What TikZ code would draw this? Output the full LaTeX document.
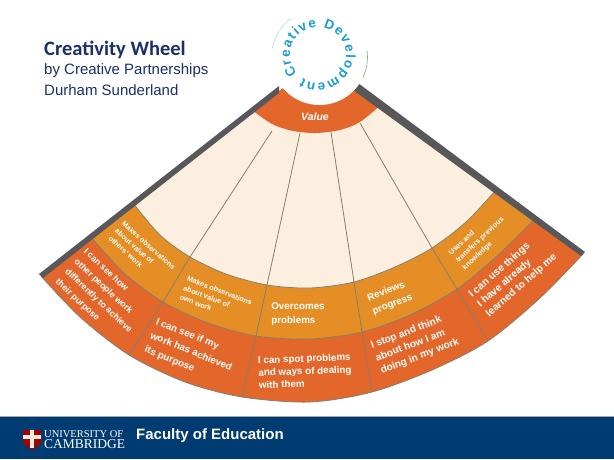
\documentclass[tikz,border=0pt]{standalone}
\usepackage{fontspec}
\setmainfont{Liberation Sans}
\newfontfamily\titlefont{Carlito}
\newfontfamily\crestfont{Liberation Serif}
\usepackage{xcolor}
\usetikzlibrary{positioning,decorations.text}

\definecolor{navy}{HTML}{1B2F6B}
\definecolor{footblue}{HTML}{003C71}
\definecolor{cream}{HTML}{FCEFE0}
\definecolor{amber}{HTML}{E58E26}
\definecolor{rust}{HTML}{E3672B}
\definecolor{band}{HTML}{58585A}
\definecolor{spoke}{HTML}{84806F}
\definecolor{ringblue}{HTML}{1C9CD8}

% Arcs of the wheel, read left to right
\newcommand{\outerarc}{(41,276) (80,317) (129,355) (185,382) (242,397) (310,402) (372,392) (432,370) (488,341) (540,298) (583,254)}
\newcommand{\midarc}{(90,236) (124,273) (163,302) (208,323) (256,336) (310,339) (362,332) (410,315) (457,289) (497,256) (535,219)}
\newcommand{\innerarc}{(133,203) (160,235) (190,257) (226,274) (267,285) (310,288) (354,282) (395,267) (432,248) (466,222) (496,190)}
\newcommand{\valuearc}{(252,110) (272,124) (293,131) (316,133) (340,130) (360,122) (382,104)}

\begin{document}
\begin{tikzpicture}[
    x=1pt, y=-1pt,
    wheeltext/.style={text=white, align=left, inner sep=0pt, font=\bfseries\fontsize{9.8}{13.5}\selectfont},
    smalltext/.style={text=white, align=left, inner sep=0pt, font=\bfseries\fontsize{7.2}{10}\selectfont},
    midtext/.style={text=white, align=left, inner sep=0pt, font=\bfseries\fontsize{9.8}{14}\selectfont},
    headtext/.style={text=navy, anchor=west, inner sep=0pt, font=\fontsize{15}{17}\selectfont},
    divider/.style={draw=spoke, line width=0.8pt}
]
\useasboundingbox (0,0) rectangle (614,459);
\coordinate (apex) at (320,62);

% Rings of the wheel
\fill[rust] (apex) -- plot[smooth] coordinates {\outerarc} -- cycle;
\fill[amber] (apex) -- plot[smooth] coordinates {\midarc} -- cycle;
\fill[cream] (apex) -- plot[smooth] coordinates {\innerarc} -- cycle;
\fill[rust] (apex) -- plot[smooth] coordinates {\valuearc} -- cycle;
\draw[divider] plot[smooth] coordinates {\outerarc};
\draw[divider] plot[smooth] coordinates {\midarc};
\draw[divider] plot[smooth] coordinates {\innerarc};

% Spokes
\draw[divider] (272,131) -- (190,257) -- (163,302) -- (129,355);
\draw[divider] (300,133) -- (267,285) -- (256,336) -- (242,397);
\draw[divider] (331,132) -- (354,282) -- (362,332) -- (372,392);
\draw[divider] (360,123) -- (432,248) -- (457,289) -- (488,341);

% Dark edges
\fill[band] (279,86) -- (39,274) -- (43,278) -- (279,93) -- cycle;
\fill[band] (358,83) -- (585,252) -- (581,256) -- (353,90) -- cycle;

% Hub
\fill[white] (319.5,57) circle[radius=48pt];
\draw[ringblue!35, line width=0.6pt] (319.5,57) ++(170:48pt) arc (170:126:48pt);
\draw[green!50!black!55, line width=0.6pt] (319.5,57) ++(8:48pt) arc (8:-25:48pt);
\path[decorate, decoration={text along path, text align={fit to path},
    text={|\bfseries\fontsize{13.5}{13.5}\selectfont\color{ringblue}|Creative Development}}]
    (318,55) ++(222:28pt) arc (222:-123:28pt);
\node[text=white, inner sep=0pt, font=\bfseries\itshape\fontsize{10.5}{12}\selectfont] (value) at (315,117) {Value};

% Inner labels
\node[smalltext, rotate=-42] (others) at (142,253) {Makes observations\\about value of\\others' work};
\node[smalltext, rotate=-21] (own) at (216,300) {Makes observations\\about value of\\own work};
\node[midtext] (overcomes) at (298,314) {Overcomes\\problems};
\node[midtext, rotate=21] (reviews) at (390,298) {Reviews\\progress};
\node[smalltext, rotate=43] (uses) at (480,240) {Uses and\\transfers previous\\knowledge};

% Outer labels
\node[wheeltext, rotate=-43, font=\bfseries\fontsize{8.8}{13.7}\selectfont] (see) at (103,296) {I can see how\\other people work\\differently to achieve\\their purpose};
\node[wheeltext, rotate=-22, font=\bfseries\fontsize{9.8}{15}\selectfont] (purpose) at (191,352) {I can see if my\\work has achieved\\its purpose};
\node[wheeltext, rotate=2, font=\bfseries\fontsize{9.8}{12.5}\selectfont] (spot) at (305,371) {I can spot problems\\and ways of dealing\\with them};
\node[wheeltext, rotate=21, font=\bfseries\fontsize{10.1}{13.5}\selectfont] (stop) at (415,344) {I stop and think\\about how I am\\doing in my work};
\node[wheeltext, rotate=41, font=\bfseries\fontsize{10.2}{13}\selectfont] (things) at (513,276) {I can use things\\I have already\\learned to help me};

% Heading
\node[text=navy, anchor=west, inner sep=0pt, font=\titlefont\bfseries\fontsize{20.5}{22}\selectfont] (title) at (44,50) {Creativity Wheel};
\node[headtext] (by) at (44,71) {by Creative Partnerships};
\node[headtext] (place) at (44,90) {Durham Sunderland};

% Footer
\fill[footblue] (0,417) rectangle (614,459);
\fill[black!35] (0,416) rectangle (614,417);
\fill[red!65!black] (23,430) -- (41,430) -- (41,443) -- (32,450) -- (23,443) -- cycle;
\fill[cream] (23,435) rectangle (41,439);
\fill[cream] (30,430) rectangle (34,448);
\node[anchor=west, inner sep=0pt, text=white, font=\crestfont\fontsize{10.5}{10}\selectfont] (uni) at (44,434) {UNIVERSITY OF};
\node[anchor=west, inner sep=0pt, text=white, font=\crestfont\fontsize{13.5}{13.5}\selectfont] (cam) at (44,444) {CAMBRIDGE};
\node[anchor=west, inner sep=0pt, text=white, font=\bfseries\fontsize{15}{16}\selectfont] (faculty) at (136,436) {Faculty of Education};
\end{tikzpicture}
\end{document}
